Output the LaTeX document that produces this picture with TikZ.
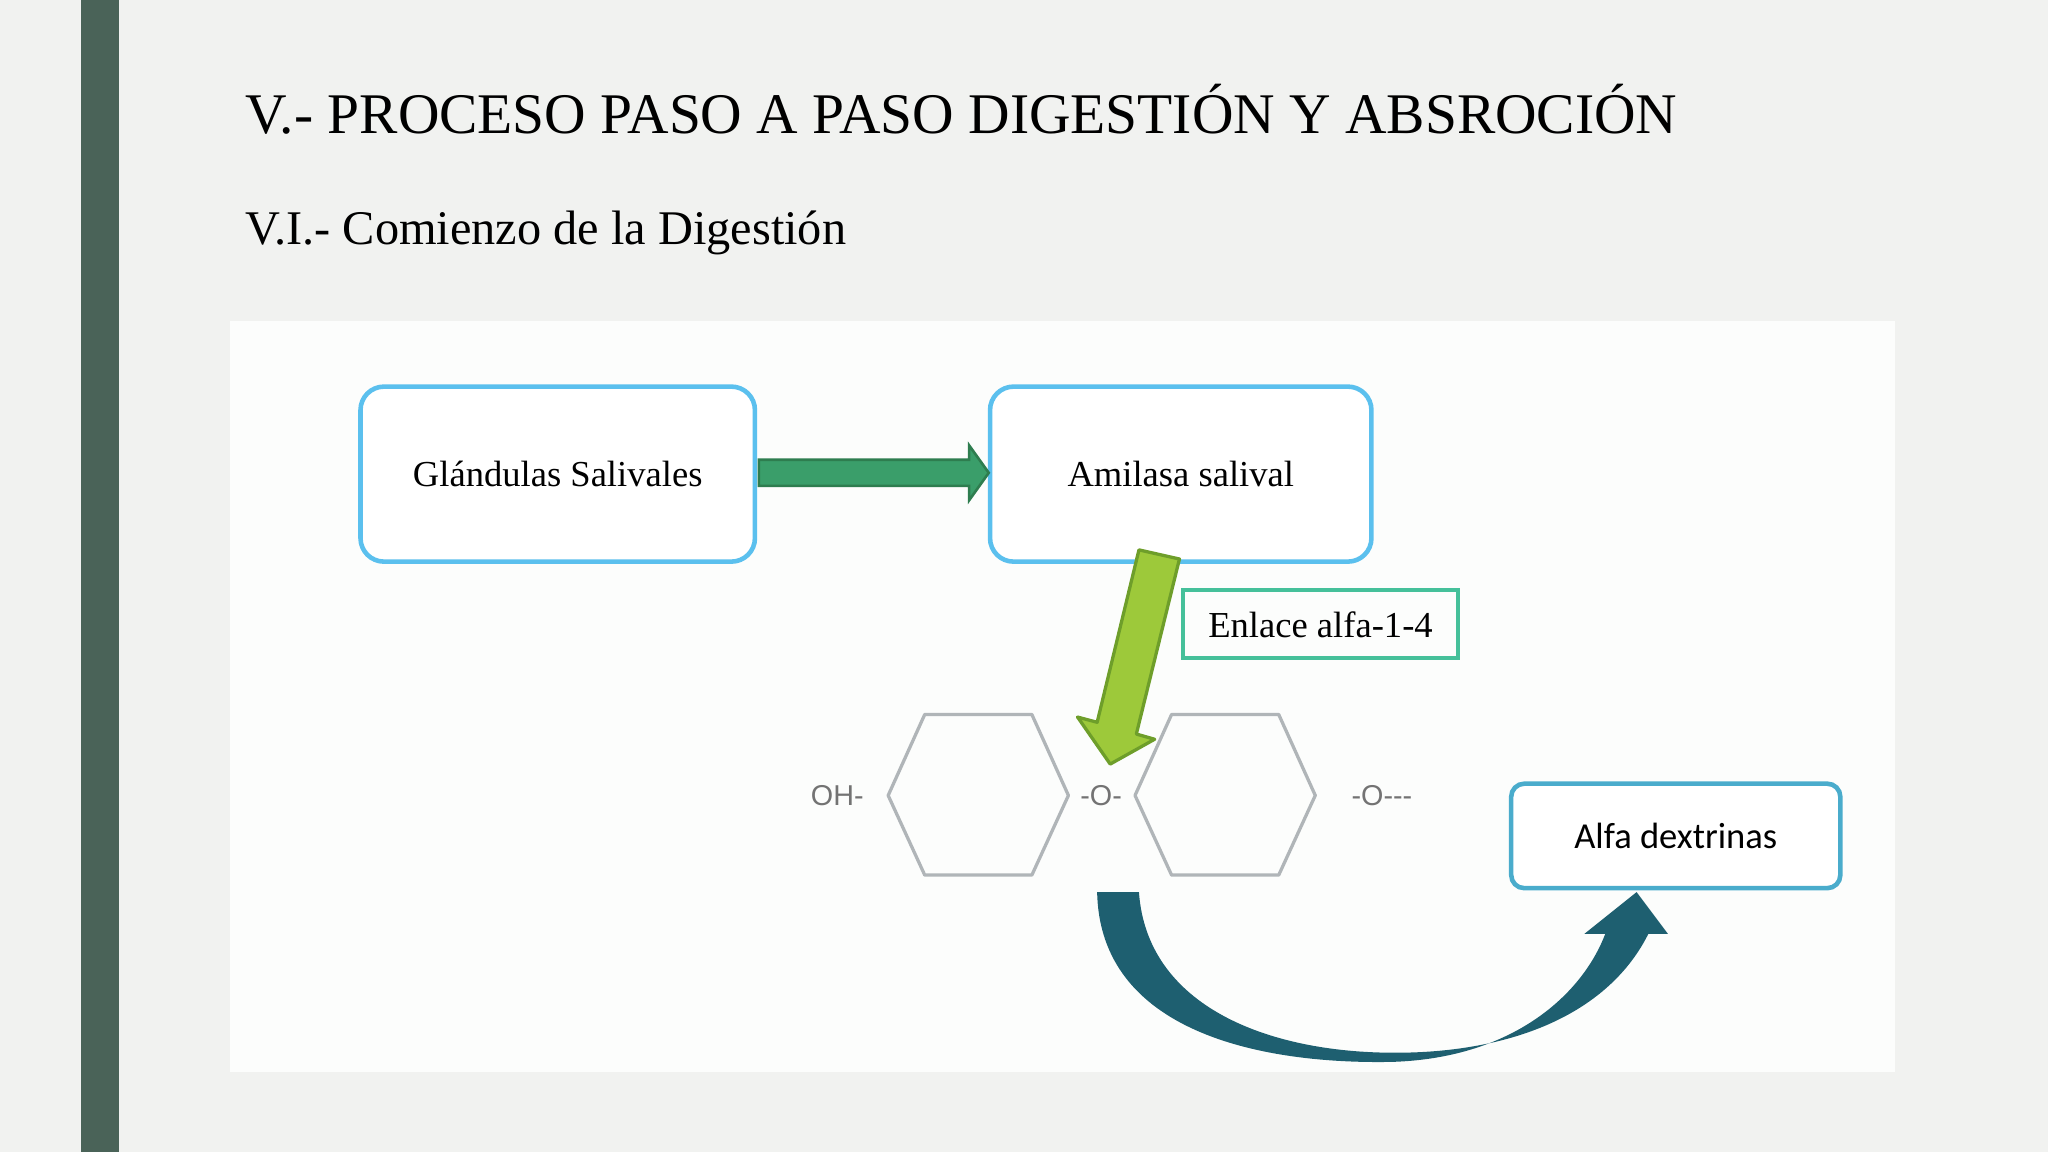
\documentclass[tikz,border=0pt]{standalone}
\usepackage{fontspec}
\setmainfont{Liberation Serif}
\newfontfamily\carl{Carlito}
\newfontfamily\lsans{Liberation Sans}
\definecolor{bg}{HTML}{F1F2F0}
\definecolor{bar}{HTML}{4A6358}
\definecolor{panel}{HTML}{FCFDFC}
\definecolor{bblue}{HTML}{5BC0EE}
\definecolor{gdark}{HTML}{3A9E6A}
\definecolor{gdarkl}{HTML}{2E7D4F}
\definecolor{glight}{HTML}{9DC93A}
\definecolor{glightl}{HTML}{6E9E2A}
\definecolor{teal}{HTML}{45C09A}
\definecolor{aqua}{HTML}{4AACCC}
\definecolor{hexg}{HTML}{B0B5B8}
\definecolor{petrol}{HTML}{1E5F70}
\tikzset{
 rbox/.style={draw=bblue,line width=3.5pt,rounded corners=18pt,fill=white,font=\fontsize{28}{32}\selectfont},
 hexa/.style={draw=hexg,line width=2.5pt,line join=round},
 chem/.style={text=gray!90!black,font=\lsans\fontsize{22}{24}\selectfont,inner sep=0}
}
\begin{document}
\begin{tikzpicture}[x=1pt,y=-1pt]
\fill[bg] (0,0) rectangle (1568,882);
\useasboundingbox (0,0) rectangle (1568,882);
\fill[bar] (62,0) rectangle (91,882);
\node[anchor=west,font=\fontsize{44}{48}\selectfont,inner sep=0] (title) at (188,84) {V.- PROCESO PASO A PASO DIGESTIÓN Y ABSROCIÓN};
\node[anchor=west,font=\fontsize{37}{40}\selectfont,inner sep=0] (sub) at (188,178) {V.I.- Comienzo de la Digestión};
\fill[panel] (176,246) rectangle (1451,821);
\node[rbox,minimum width=302pt,minimum height=134pt] (g) at (427,363) {Glándulas Salivales};
\node[rbox,minimum width=292pt,minimum height=134pt] (a) at (904,363) {Amilasa salival};
\coordinate (gs) at (g.east);
\fill[gdark,draw=gdarkl,line width=2pt] (581,352) -- (742,352) -- (742,341) -- (757,362) -- (742,383) -- (742,372) -- (581,372) -- cycle;
\node[draw=teal,line width=3pt,minimum width=210pt,minimum height=52pt,font=\fontsize{28}{32}\selectfont] (e) at (1011,478) {Enlace alfa-1-4};
% hexagons
\draw[hexa] (708,547) -- (790,547) -- (818,609) -- (790,670) -- (708,670) -- (680,609) -- cycle;
\draw[hexa] (897,547) -- (979,547) -- (1007,609) -- (979,670) -- (897,670) -- (869,609) -- cycle;
\node[chem] (oh) at (641,609) {OH-};
\node[chem] (o1) at (843,609) {-O-};
\node[chem] (o2) at (1058,609) {-O---};
% light green arrow
\fill[glight,draw=glightl,line width=2.5pt,line join=round]
 (872,421) -- (903,428) -- (870,562) -- (884,566) -- (850,585) -- (825,549) -- (840,553) -- cycle;
\node[draw=aqua,line width=3.5pt,rounded corners=10pt,fill=white,minimum width=252pt,minimum height=80pt,font=\carl\fontsize{28}{32}\selectfont] (d) at (1283,640) {Alfa dextrinas};
% curved arrow
\fill[petrol] (840,683) .. controls (842,790) and (965,815) .. (1066,813)
 .. controls (1160,810) and (1212,760) .. (1229,715)
 -- (1213,715) -- (1253,683) -- (1277,715) -- (1262,715)
 .. controls (1232,775) and (1160,806) .. (1068,806)
 .. controls (970,806) and (878,770) .. (872,683) -- cycle;
\end{tikzpicture}
\end{document}
